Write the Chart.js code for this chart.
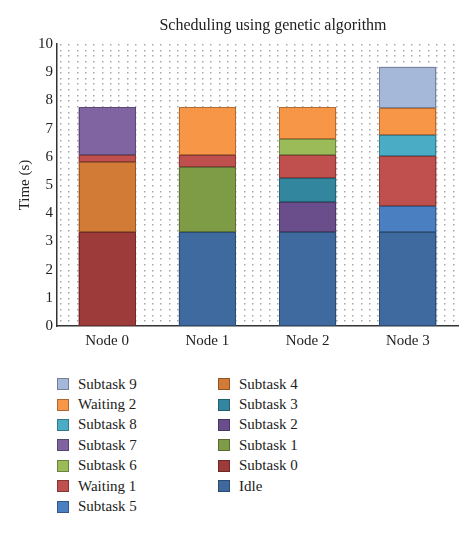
<!DOCTYPE html>
<html>
<head>
<meta charset="utf-8">
<script src="https://cdn.jsdelivr.net/npm/chart.js@4"></script>
<style>
  body { margin: 0; background: #fff; }
  #wrap { position: relative; width: 474px; height: 534px; }
  #chart-box { position: absolute; left: 0; top: 0; width: 474px; height: 356px; }
  #title {
    position: absolute; left: 273px; top: 16px; transform: translateX(-50%);
    white-space: nowrap; font-family: 'Liberation Serif', serif; font-size: 16px; color: #222;
  }
  #legend {
    position: absolute; left: 57px; top: 374px;
    display: grid; grid-template-rows: repeat(7, 20.4px);
    grid-auto-flow: column; grid-template-columns: 161px 160px;
    font-family: 'Liberation Serif', serif; font-size: 15px; color: #222;
  }
  .item { display: flex; align-items: center; }
  .box { width: 12px; height: 12px; margin-right: 9px; box-sizing: border-box; border: 1px solid rgba(0,0,0,0.3); }
</style>
</head>
<body>
<div id="wrap">
  <div id="chart-box"><canvas id="sched-chart"></canvas></div>
  <div id="title">Scheduling using genetic algorithm</div>
  <div id="legend"></div>
</div>
<script>
// categories
const nodes = ['Node 0', 'Node 1', 'Node 2', 'Node 3'];
const yTicks = [0, 1, 2, 3, 4, 5, 6, 7, 8, 9, 10];

// series values, seconds per node (stack order bottom -> top)
const idle      = [null, 3.32, 3.32, 3.32];
const subtask0  = [3.32, null, null, null];
const subtask1  = [null, 2.31, null, null];
const subtask2  = [null, null, 1.09, null];
const subtask3  = [null, null, 0.83, null];
const subtask4  = [2.49, null, null, null];
const subtask5  = [null, null, null, 0.93];
const waiting1  = [0.24, 0.42, 0.81, 1.78];
const subtask6  = [null, null, 0.57, null];
const subtask7  = [1.70, null, null, null];
const subtask8  = [null, null, null, 0.73];
const waiting2  = [null, 1.70, 1.13, 0.97];
const subtask9  = [null, null, null, 1.46];

const series = [
  { label: 'Idle',      data: idle,     color: '#3e6a9f' },
  { label: 'Subtask 0', data: subtask0, color: '#9c3b39' },
  { label: 'Subtask 1', data: subtask1, color: '#7e9b46' },
  { label: 'Subtask 2', data: subtask2, color: '#6a4e8c' },
  { label: 'Subtask 3', data: subtask3, color: '#32879e' },
  { label: 'Subtask 4', data: subtask4, color: '#d17b36' },
  { label: 'Subtask 5', data: subtask5, color: '#4a7fc1' },
  { label: 'Waiting 1', data: waiting1, color: '#c0504d' },
  { label: 'Subtask 6', data: subtask6, color: '#9bbb59' },
  { label: 'Subtask 7', data: subtask7, color: '#8064a2' },
  { label: 'Subtask 8', data: subtask8, color: '#4bacc6' },
  { label: 'Waiting 2', data: waiting2, color: '#f79646' },
  { label: 'Subtask 9', data: subtask9, color: '#a6b8d9' }
];

const serif = 'Liberation Serif';

function darker(hex) {
  const n = parseInt(hex.slice(1), 16);
  const f = c => Math.round(c * 0.72);
  return 'rgb(' + f(n >> 16) + ',' + f((n >> 8) & 255) + ',' + f(n & 255) + ')';
}

// dotted background like the original
const dotGrid = {
  id: 'dotGrid',
  beforeDatasetsDraw(chart) {
    const { ctx, chartArea, scales } = chart;
    const stepX = (chartArea.right - chartArea.left) / 48;
    ctx.save();
    ctx.fillStyle = '#a8a8a8';
    for (let v = 0.2; v <= 10.001; v += 0.2) {
      const y = scales.y.getPixelForValue(v);
      for (let x = chartArea.left + 3; x <= chartArea.right; x += stepX) {
        ctx.fillRect(Math.round(x), Math.round(y), 1.5, 1.5);
      }
    }
    ctx.restore();
  }
};

// crisp 1px outline on each segment (canvas border antialiasing leaves light seams)
const segOutline = {
  id: 'segOutline',
  afterDatasetsDraw(chart) {
    const ctx = chart.ctx;
    ctx.save();
    ctx.lineWidth = 1;
    chart.data.datasets.forEach((ds, i) => {
      const meta = chart.getDatasetMeta(i);
      ctx.strokeStyle = darker(ds.backgroundColor);
      meta.data.forEach((bar, j) => {
        if (ds.data[j] == null) return;
        const { x, y, base, width } = bar.getProps(['x', 'y', 'base', 'width'], true);
        const l = Math.round(x - width / 2) + 0.5;
        const r = Math.round(x + width / 2) - 0.5;
        const t = Math.round(y) + 0.5;
        const b = Math.round(base) - 0.5;
        ctx.strokeRect(l, t, r - l, b - t);
      });
    });
    ctx.restore();
  }
};

const ctx = document.getElementById('sched-chart').getContext('2d');
const chart = new Chart(ctx, {
  type: 'bar',
  data: {
    labels: nodes,
    datasets: series.map(s => ({
      label: s.label,
      data: s.data,
      backgroundColor: s.color,
      borderWidth: 0,
      categoryPercentage: 0.57,
      barPercentage: 1
    }))
  },
  options: {
    responsive: true,
    maintainAspectRatio: false,
    animation: false,
    layout: { padding: { left: 16, right: 16, top: 44, bottom: 0 } },
    scales: {
      x: {
        stacked: true,
        grid: { display: false, drawTicks: false },
        border: { color: '#333', width: 1.5 },
        ticks: { color: '#222', font: { family: serif, size: 15 }, padding: 6 }
      },
      y: {
        stacked: true,
        min: 0,
        max: 10,
        afterBuildTicks: axis => { axis.ticks = yTicks.map(v => ({ value: v })); },
        grid: { display: false, drawTicks: false },
        border: { color: '#333', width: 1.5 },
        ticks: { color: '#222', font: { family: serif, size: 15 }, padding: 4 },
        title: { display: true, text: 'Time (s)', color: '#222', font: { family: serif, size: 15 }, padding: { top: 0, bottom: 0 } }
      }
    },
    plugins: {
      legend: { display: false },
      tooltip: { enabled: false }
    }
  },
  plugins: [dotGrid, segOutline]
});

// legend in two columns, top of stack first
const legend = document.getElementById('legend');
chart.data.datasets.slice().reverse().forEach(ds => {
  const item = document.createElement('div');
  item.className = 'item';
  item.innerHTML = '<span class="box" style="background:' + ds.backgroundColor + '"></span>' + ds.label;
  legend.appendChild(item);
});
</script>
</body>
</html>
